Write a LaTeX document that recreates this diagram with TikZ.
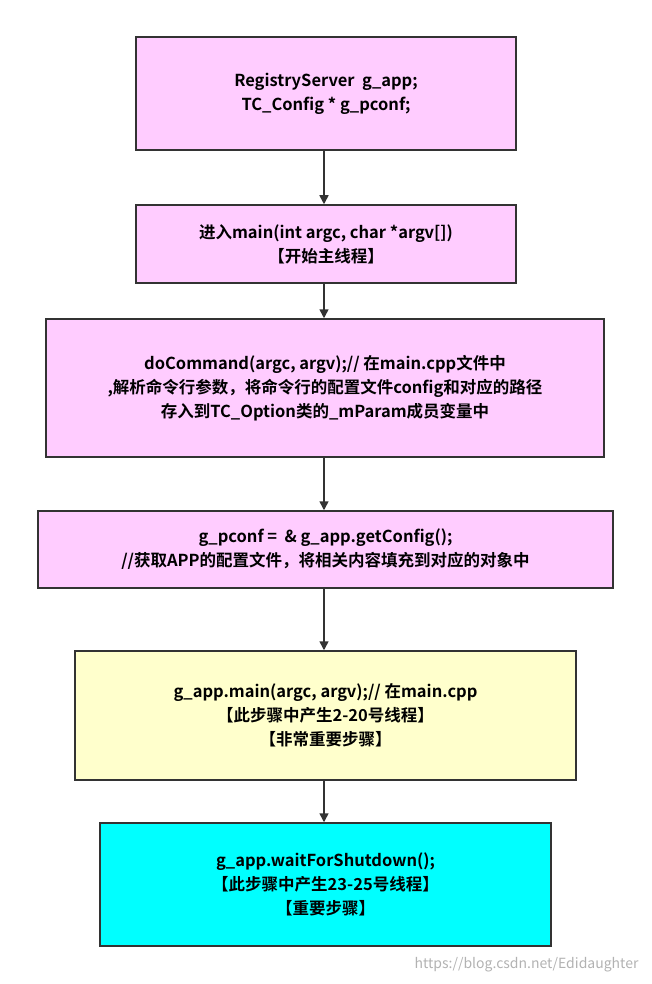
\documentclass[tikz,border=0pt]{standalone}
\usepackage{fontspec}
\setmainfont{Noto Sans CJK SC}[BoldFont={Noto Sans CJK SC Bold}]
\usetikzlibrary{arrows.meta}
\definecolor{pk}{HTML}{FFCCFF}
\definecolor{yl}{HTML}{FFFFCC}
\definecolor{cy}{HTML}{00FFFF}
\definecolor{ln}{HTML}{333333}
\begin{document}
\begin{tikzpicture}[x=1pt,y=-1pt,
  box/.style={draw=ln,line width=1.5pt,font=\bfseries\fontsize{16.5}{24}\selectfont,align=center,inner sep=0pt},
  arr/.style={draw=ln,line width=1.5pt,-{Triangle[length=9pt,width=9pt]}}]
\useasboundingbox (0,0) rectangle (651,984);
\node[box,fill=pk,minimum width=380pt,minimum height=113pt] (a) at (326,93.5) {RegistryServer~ g\_app;\\TC\_Config * g\_pconf;};
\node[box,fill=pk,minimum width=380pt,minimum height=78pt] (b) at (326,244) {进入main(int argc, char *argv[])\\【开始主线程】};
\node[box,fill=pk,minimum width=558pt,minimum height=138pt] (c) at (325,388) {doCommand(argc, argv);// 在main.cpp文件中\\,解析命令行参数，将命令行的配置文件config和对应的路径\\存入到TC\_Option类的\_mParam成员变量中};
\node[box,fill=pk,minimum width=575pt,minimum height=77pt] (d) at (325.5,549.5) {g\_pconf =~ \& g\_app.getConfig();\\//获取APP的配置文件，将相关内容填充到对应的对象中};
\node[box,fill=yl,minimum width=501pt,minimum height=129pt] (e) at (325.5,715.5) {g\_app.main(argc, argv);// 在main.cpp\\【此步骤中产生2-20号线程】\\【非常重要步骤】};
\node[box,fill=cy,minimum width=451pt,minimum height=123pt] (f) at (325.5,884.5) {g\_app.waitForShutdown();\\【此步骤中产生23-25号线程】\\【重要步骤】};
\draw[arr] (a.south -| 324,0) -- (b.north -| 324,0);
\draw[arr] (b.south -| 324,0) -- (c.north -| 324,0);
\draw[arr] (c.south -| 324,0) -- (d.north -| 324,0);
\draw[arr] (d.south -| 324,0) -- (e.north -| 324,0);
\draw[arr] (e.south -| 324,0) -- (f.north -| 324,0);
\node[text=gray!60,font=\fontsize{14}{16}\selectfont,anchor=east] (w) at (642,965) {https://blog.csdn.net/Edidaughter};
\end{tikzpicture}
\end{document}
